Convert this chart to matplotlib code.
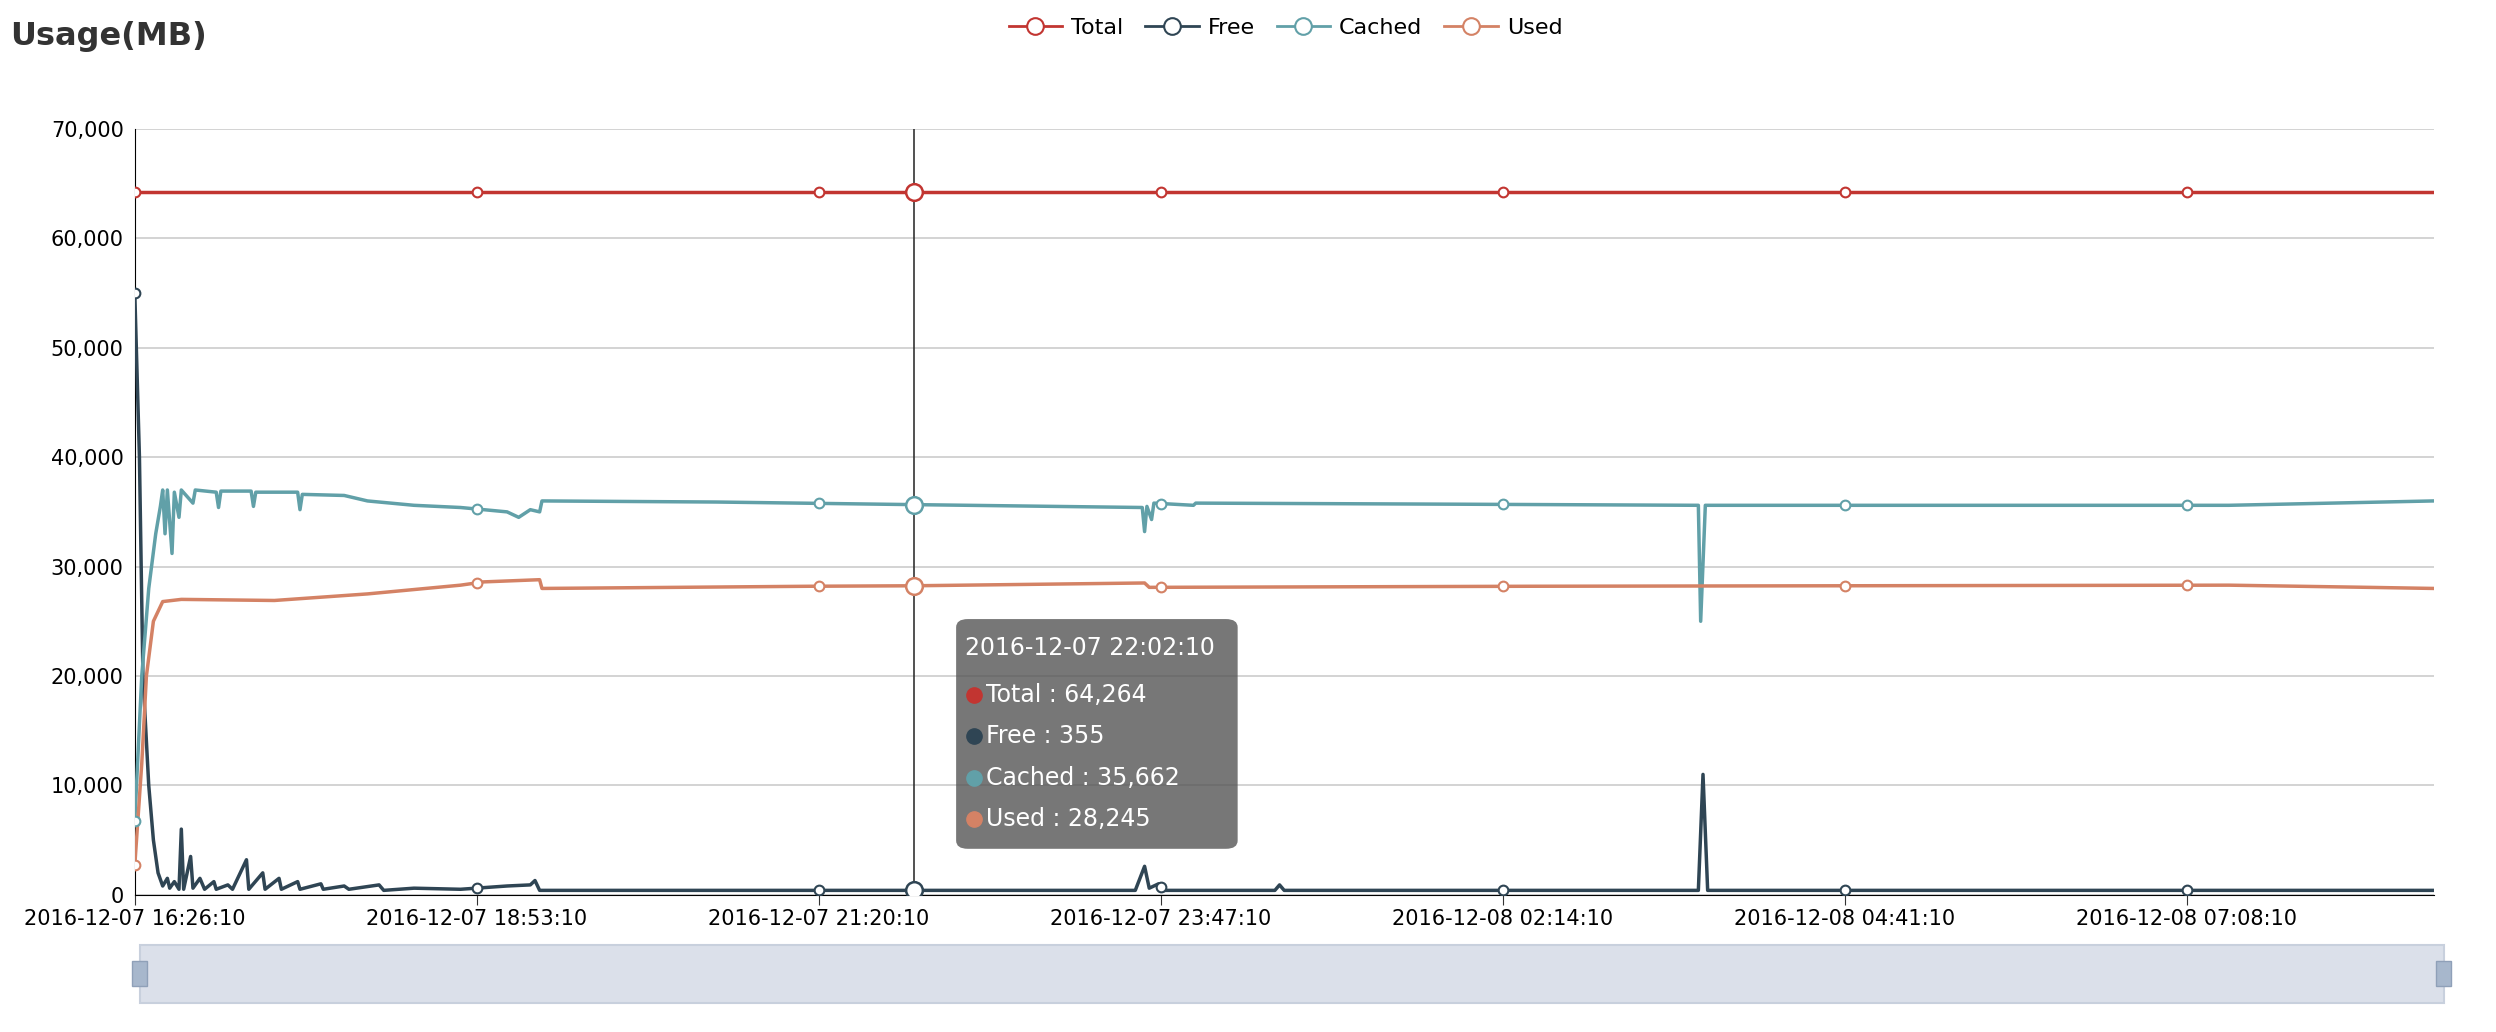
import numpy as np
import matplotlib.pyplot as plt
from matplotlib.patches import FancyBboxPatch, Rectangle
from matplotlib.lines import Line2D

# minutes after 2016-12-07 16:26:10
tick_labels = ["2016-12-07 16:26:10", "2016-12-07 18:53:10", "2016-12-07 21:20:10",
               "2016-12-07 23:47:10", "2016-12-08 02:14:10", "2016-12-08 04:41:10",
               "2016-12-08 07:08:10"]
tick_minutes = [0, 147, 294, 441, 588, 735, 882]

total_t = [0, 988]
total_v = [64264, 64264]

free_t = [0, 2, 3.5, 6, 8, 10, 12, 14, 15, 17, 19, 20, 21, 24, 25, 28, 30, 34, 35, 40, 42, 48, 49,
          55, 56, 62, 63, 70, 71, 80, 81, 90, 92, 105, 107, 120, 140, 160, 170, 172, 174, 250,
          430, 434, 436, 440, 442, 490, 492, 494, 672, 674, 676, 988]
free_v = [55000, 40000, 20000, 10000, 5000, 2000, 800, 1500, 600, 1200, 500, 6000, 500, 3500, 600,
          1500, 500, 1200, 500, 900, 500, 3200, 500, 2000, 500, 1500, 500, 1200, 500, 1000, 500,
          800, 500, 900, 400, 600, 500, 800, 900, 1300, 400, 400, 400, 2600, 600, 1000, 400, 400,
          900, 400, 400, 11000, 400, 400]

cached_t = [0, 3, 6, 9, 11, 12, 13, 14, 16, 17, 19, 20, 25, 26, 35, 36, 37, 50, 51, 52, 70, 71, 72,
            90, 100, 120, 140, 160, 165, 170, 174, 175, 250, 335, 433, 434, 435, 437, 438, 455,
            456, 570, 672, 673, 675, 760, 900, 988]
cached_v = [6700, 20000, 28000, 33000, 35500, 37000, 33000, 37000, 31200, 36800, 34500, 37000,
            35800, 37000, 36800, 35400, 36900, 36900, 35500, 36800, 36800, 35200, 36600, 36500,
            36000, 35600, 35400, 35000, 34500, 35200, 35000, 36000, 35900, 35662, 35400, 33200,
            35500, 34300, 35800, 35600, 35800, 35700, 35600, 25000, 35600, 35600, 35600, 36000]

used_t = [0, 3, 5, 8, 12, 20, 60, 100, 140, 150, 174, 175, 290, 335, 434, 436, 600, 900, 960, 988]
used_v = [2700, 12000, 20000, 25000, 26800, 27000, 26900, 27500, 28300, 28600, 28800, 28000,
          28200, 28245, 28500, 28100, 28200, 28300, 28100, 28000]

cursor_t = 335
series = [("Total", "#c23531", total_t, total_v),
          ("Free", "#2f4554", free_t, free_v),
          ("Cached", "#61a0a8", cached_t, cached_v),
          ("Used", "#d48265", used_t, used_v)]

fig = plt.figure(figsize=(24.96, 10.32), dpi=100)
ax = fig.add_axes([0.054, 0.133, 0.921, 0.742])

for name, color, t, v in series:
    ax.plot(t, v, color=color, lw=2.5, zorder=3)
    mt = np.array(tick_minutes)
    ax.plot(mt, np.interp(mt, t, v), "o", ms=7, mfc="white", mec=color, mew=1.5, zorder=4)
    ax.plot([cursor_t], [np.interp(cursor_t, t, v)], "o", ms=12, mfc="white", mec=color,
            mew=1.8, zorder=5)

ax.axvline(cursor_t, color="#333333", lw=1.2, zorder=2)
ax.set_xlim(0, 988)
ax.set_ylim(0, 70000)
ax.set_yticks(range(0, 70001, 10000))
ax.set_yticklabels([f"{y:,}" for y in range(0, 70001, 10000)])
ax.set_xticks(tick_minutes)
ax.set_xticklabels(tick_labels)
ax.grid(axis="y", color="#cccccc", lw=1.2)
ax.set_axisbelow(True)
for s in ["top", "right"]:
    ax.spines[s].set_visible(False)
ax.tick_params(labelsize=15, length=7, color="#333333")
ax.tick_params(axis="y", length=0, pad=8)

# tooltip
ax.add_patch(FancyBboxPatch((353, 4200), 121, 21000, boxstyle="round,pad=0,rounding_size=5",
                            fc="#555555", alpha=0.8, ec="none", zorder=6,
                            mutation_aspect=150))
ax.text(357, 22600, "2016-12-07 22:02:10", color="white", fontsize=17, va="center", zorder=7)
rows = [("Total : 64,264", "#c23531"), ("Free : 355", "#2f4554"),
        ("Cached : 35,662", "#61a0a8"), ("Used : 28,245", "#d48265")]
for i, (txt, c) in enumerate(rows):
    y = 18300 - i * 3800
    ax.plot([360.5], [y], "o", ms=11, color=c, zorder=7)
    ax.text(366, y, txt, color="white", fontsize=17, va="center", zorder=7)

# title and legend
fig.text(0.004, 0.965, "Usage(MB)", fontsize=23, fontweight="bold", color="#333333", va="center")
handles = [Line2D([0], [0], color=c, lw=2, marker="o", ms=12, mfc="white", mec=c, mew=1.5)
           for _, c, _, _ in series]
fig.legend(handles, [n for n, _, _, _ in series], loc="center", bbox_to_anchor=(0.515, 0.973),
           ncol=4, frameon=False, fontsize=16, handlelength=2.4, columnspacing=1.0,
           handletextpad=0.4)

# data zoom slider
fig.patches.append(Rectangle((0.056, 0.028), 0.923, 0.056, transform=fig.transFigure,
                             fc="#dbe0ea", ec="#c8d0dd", lw=1.5))
for xh in (0.056, 0.979):
    fig.patches.append(Rectangle((xh - 0.003, 0.045), 0.006, 0.024, transform=fig.transFigure,
                                 fc="#a7b7cc", ec="#8fa0b8", lw=1))

fig.savefig("out.png", dpi=100)
